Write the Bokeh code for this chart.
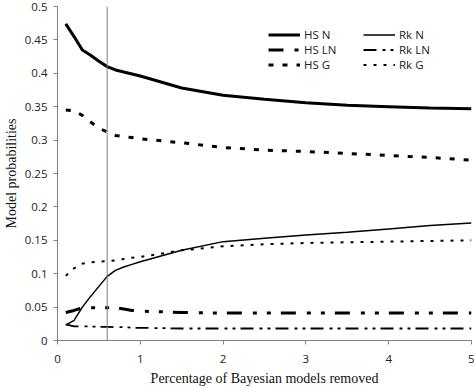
from bokeh.plotting import figure
from bokeh.models import FixedTicker, Span, Legend, LegendItem, Range1d
from bokeh.embed import file_html
from bokeh.resources import INLINE

# ---- data ----
x = [0.1, 0.2, 0.3, 0.4, 0.5, 0.6, 0.7, 0.8, 0.9, 1.0, 1.5, 2.0, 2.5, 3.0, 3.5, 4.0, 4.5, 5.0]
hs_n = [0.474, 0.455, 0.435, 0.427, 0.418, 0.410, 0.405, 0.402, 0.399, 0.396, 0.378, 0.367,
        0.361, 0.356, 0.352, 0.350, 0.348, 0.347]
hs_ln = [0.042, 0.045, 0.049, 0.049, 0.049, 0.049, 0.049, 0.047, 0.045, 0.044, 0.042, 0.041,
         0.041, 0.041, 0.041, 0.041, 0.041, 0.041]
hs_g = [0.345, 0.344, 0.337, 0.327, 0.318, 0.312, 0.307, 0.305, 0.304, 0.302, 0.296, 0.289,
        0.285, 0.283, 0.280, 0.277, 0.274, 0.270]
rk_n = [0.023, 0.030, 0.050, 0.066, 0.081, 0.096, 0.105, 0.110, 0.114, 0.118, 0.135, 0.148,
        0.153, 0.158, 0.162, 0.167, 0.172, 0.176]
rk_ln = [0.024, 0.021, 0.021, 0.021, 0.0205, 0.0205, 0.020, 0.020, 0.019, 0.019, 0.018, 0.018,
         0.018, 0.018, 0.018, 0.018, 0.018, 0.018]
rk_g = [0.097, 0.108, 0.115, 0.117, 0.118, 0.119, 0.120, 0.122, 0.124, 0.125, 0.135, 0.141,
        0.144, 0.146, 0.147, 0.148, 0.149, 0.150]
cutoff = 0.6

x_ticks = [0, 1, 2, 3, 4, 5]
x_tick_labels = ["0", "1", "2", "3", "4", "5"]
y_ticks = [0, 0.05, 0.1, 0.15, 0.2, 0.25, 0.3, 0.35, 0.4, 0.45, 0.5]
y_tick_labels = ["0", "0.05", "0.1", "0.15", "0.2", "0.25", "0.3", "0.35", "0.4", "0.45", "0.5"]

AX = "#808080"
SANS = "Open Sans"
SERIF = "Liberation Serif"

p = figure(width=474, height=388, output_backend="svg", toolbar_location=None,
           x_range=Range1d(0, 5), y_range=Range1d(0, 0.5),
           min_border_left=51, min_border_right=3, min_border_top=6, min_border_bottom=46)
p.xgrid.visible = False
p.ygrid.visible = False
p.outline_line_color = None
p.background_fill_color = "white"

p.xaxis.ticker = FixedTicker(ticks=x_ticks)
p.yaxis.ticker = FixedTicker(ticks=y_ticks)
p.xaxis.major_label_overrides = dict(zip(x_ticks, x_tick_labels))
p.yaxis.major_label_overrides = dict(zip(y_ticks, y_tick_labels))
for ax in (p.xaxis[0], p.yaxis[0]):
    ax.axis_line_color = AX
    ax.major_tick_line_color = AX
    ax.minor_tick_line_color = None
    ax.major_tick_in = 0
    ax.major_tick_out = 4
    ax.major_label_text_font = SANS
    ax.major_label_text_font_size = "11.5px"
    ax.major_label_text_color = "#222222"
    ax.axis_label_text_font = SERIF
    ax.axis_label_text_font_size = "14px"
    ax.axis_label_text_font_style = "normal"
    ax.axis_label_text_color = "#111111"
p.xaxis.major_label_standoff = 10
p.yaxis.major_label_standoff = 6
p.xaxis.axis_label = "Percentage of Bayesian models removed"
p.yaxis.axis_label = "Model probabilities"
p.xaxis.axis_label_standoff = 5
p.yaxis.axis_label_standoff = 3

p.add_layout(Span(location=cutoff, dimension="height", line_color=AX, line_width=1))

r_hs_n = p.line(x, hs_n, line_color="black", line_width=3)
r_hs_ln = p.line(x, hs_ln, line_color="black", line_width=3, line_dash="15 11 4 10 4 10")
r_hs_g = p.line(x, hs_g, line_color="black", line_width=3, line_dash="5 9")
r_rk_n = p.line(x, rk_n, line_color="black", line_width=1.5)
r_rk_ln = p.line(x, rk_ln, line_color="black", line_width=1.8, line_dash="13 6 3 5 3 5")
r_rk_g = p.line(x, rk_g, line_color="black", line_width=2, line_dash="3 7")


def make_legend(items, loc):
    lg = Legend(items=items, location=loc)
    lg.background_fill_alpha = 0
    lg.border_line_alpha = 0
    lg.padding = 0
    lg.margin = 0
    lg.spacing = 0
    lg.glyph_width = 32
    lg.glyph_height = 15
    lg.label_height = 15
    lg.label_standoff = 4
    lg.label_text_font = SANS
    lg.label_text_font_size = "11.5px"
    lg.label_text_color = "#222222"
    return lg


leg1 = make_legend([LegendItem(label="HS N", renderers=[r_hs_n]),
                    LegendItem(label="HS LN", renderers=[r_hs_ln]),
                    LegendItem(label="HS G", renderers=[r_hs_g])], (211, 268))
leg2 = make_legend([LegendItem(label="Rk N", renderers=[r_rk_n]),
                    LegendItem(label="Rk LN", renderers=[r_rk_ln]),
                    LegendItem(label="Rk G", renderers=[r_rk_g])], (306, 268))
p.add_layout(leg1)
p.add_layout(leg2)

open("out.html", "w").write(file_html(p, INLINE))
